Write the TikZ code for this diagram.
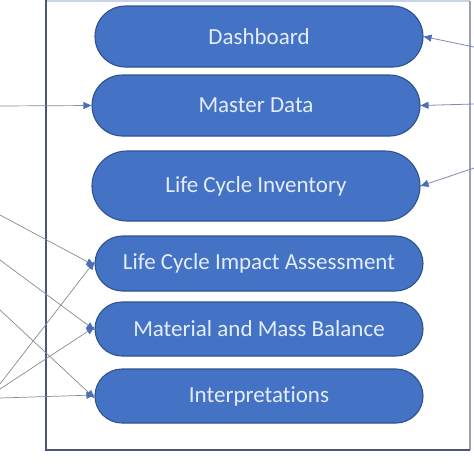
\documentclass[tikz,border=0pt]{standalone}
\usepackage{fontspec}
\setmainfont[Ligatures=NoCommon]{Carlito}
\usetikzlibrary{shapes.misc,arrows.meta}
\definecolor{pillfill}{HTML}{4472C4}
\definecolor{pillline}{HTML}{2F528F}
\definecolor{pilltext}{HTML}{E4EDFC}
\definecolor{framedark}{HTML}{4A5578}
\definecolor{framelight}{HTML}{9AA2B4}
\definecolor{frametop}{HTML}{C9D3E8}
\definecolor{connleft}{HTML}{8C8C8C}
\definecolor{connright}{HTML}{7D8CAE}
\definecolor{tipcol}{HTML}{4A6FB5}
\tikzset{
  pill/.style={rounded rectangle, draw=pillline, line width=1.1pt, fill=pillfill,
    text=pilltext, font=\fontsize{23}{26}\selectfont, minimum width=328pt,
    inner sep=0pt},
  connl/.style={draw=connleft, line width=0.7pt,
    -{Triangle[length=8pt,width=7pt,fill=tipcol,color=tipcol]}},
  connr/.style={draw=connright, line width=0.8pt,
    -{Triangle[length=8pt,width=7pt,fill=tipcol,color=tipcol]}},
}
\begin{document}
\begin{tikzpicture}[x=1pt,y=-1pt]
\useasboundingbox (0,0) rectangle (474,474);
\fill[white] (0,0) rectangle (474,474);
% frame
\draw[frametop, line width=1.5pt] (46,1) -- (470,1);
\draw[framelight, line width=1.2pt] (470,1) -- (470,450);
\draw[framedark, line width=1.6pt] (46,0) -- (46,450) -- (470,450);
% pills
\node[pill, minimum height=61pt] (db) at (259,36.5) {Dashboard};
\node[pill, minimum height=61pt] (md) at (256,105.5) {Master Data};
\node[pill, minimum height=70pt] (lci) at (256,186) {Life Cycle Inventory};
\node[pill, minimum height=55pt] (lcia) at (259,263.5) {Life Cycle Impact Assessment};
\node[pill, minimum height=54pt] (mmb) at (259,329) {Material and Mass Balance};
\node[pill, minimum height=54pt] (int) at (259,396) {Interpretations};
% left sources
\coordinate (s1) at (0,106);
\coordinate (s2) at (0,215);
\coordinate (s3) at (0,260);
\coordinate (s4) at (0,310);
\coordinate (s5) at (0,384);
\coordinate (s6) at (0,389);
\coordinate (s7) at (0,398);
\draw[connl] (s1) -- (md.west);
\draw[connl] (s2) -- ([yshift=-2pt]lcia.west);
\draw[connl] (s3) -- ([yshift=-1pt]mmb.west);
\draw[connl] (s4) -- ([yshift=-2pt]int.west);
\draw[connl] (s5) -- ([yshift=2pt]lcia.west);
\draw[connl] (s6) -- ([yshift=2pt]mmb.west);
\draw[connl] (s7) -- ([yshift=1pt]int.west);
% right sources
\coordinate (r1) at (474,47);
\coordinate (r2) at (474,104);
\coordinate (r3) at (474,168);
\draw[connr] (r1) -- (db.east);
\draw[connr] (r2) -- (md.east);
\draw[connr] (r3) -- (lci.east);
\end{tikzpicture}
\end{document}
